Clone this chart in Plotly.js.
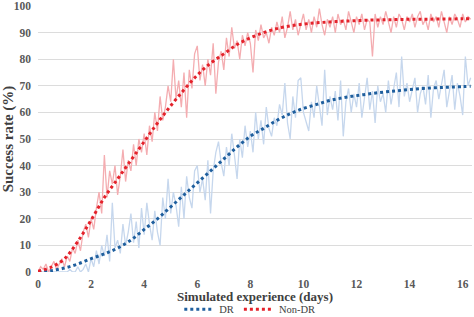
<!DOCTYPE html>
<html>
<head>
<meta charset="utf-8">
<script src="https://cdn.plot.ly/plotly-3.0.1.min.js"></script>
<style>
  html, body { margin: 0; padding: 0; background: #ffffff; }
  #chart { width: 474px; height: 317px; }
</style>
</head>
<body>
<div id="chart"></div>
<script>
// Daily sampling of the simulated runs (every 0.1 day, 0 to 16.3)
const sampleStart = 0;
const sampleStep = 0.1;

// Raw per-sample success rate (%) for the Non-DR group
const nonDrRaw = [
  0, 2, 1, 3, 0, 2, 4, 1, 3, 5,
  2, 6, 4, 9, 7, 12, 8, 15, 18, 13,
  20, 16, 24, 30, 22, 44, 28, 38, 33, 40,
  29, 36, 46, 34, 42, 38, 48, 40, 50, 45,
  52, 44, 55, 49, 60, 53, 66, 57, 62, 70,
  64, 80, 65, 72, 62, 75, 58, 76, 69, 82,
  85, 72, 78, 70, 80, 74, 86, 67, 79, 83,
  76, 88, 81, 92, 84, 87, 80, 89, 85, 90,
  86, 75, 91, 87, 93, 88, 90, 86, 92, 89,
  94, 90, 96, 88, 92, 98, 91, 95, 89, 93,
  97, 91, 95, 90, 96, 92, 99, 93, 89, 95,
  92, 96, 90, 97, 93, 95, 91, 98, 94, 90,
  96, 93, 97, 91, 95, 94, 81, 97, 92, 96,
  93, 98, 94, 90, 96, 92, 97, 95, 91, 96,
  94, 97, 92, 96, 98, 93, 95, 91, 97, 94,
  96, 92, 98, 94, 90, 96, 93, 97, 95, 92,
  97, 94, 96, 95
];

// Raw per-sample success rate (%) for the DR group
const drRaw = [
  0, 0, 0, 0, 0, 0, 0, 0, 0, 0,
  0, 0, 1, 0, 0, 2, 0, 1, 3, 0,
  5, 2, 8, 3, 10, 6, 14, 4, 26, 9,
  12, 7, 18, 10, 15, 22, 11, 19, 9, 24,
  14, 26, 18, 12, 23, 15, 10, 28, 20, 35,
  22, 30, 25, 17, 32, 20, 36, 28, 24, 38,
  40, 30, 35, 27, 42, 22, 38, 45, 49, 41,
  36, 47, 40, 52, 44, 35, 50, 43, 55, 47,
  53, 45, 60, 50, 57, 48, 62, 54, 51, 58,
  55, 63, 59, 71, 56, 50, 66, 58, 72, 73,
  60, 56, 53, 64, 58, 70, 62, 55, 76, 59,
  66, 61, 68, 57, 72, 51, 64, 69, 60, 67,
  62, 71, 58, 66, 73, 61, 68, 56, 70, 64,
  67, 60, 72, 63, 69, 75, 62, 81, 66, 71,
  64, 68, 73, 60, 67, 70, 63, 74, 58, 69,
  72, 65, 70, 76, 62, 68, 74, 61, 71, 66,
  59, 81, 70, 73
];

// Fitted trend curves
const trendDays = [
  0, 0.5, 1, 1.5, 2, 2.5, 3, 3.5, 4, 4.5, 5, 5.5, 6, 6.5, 7, 7.5, 8,
  8.5, 9, 9.5, 10, 10.5, 11, 11.5, 12, 12.5, 13, 13.5, 14, 14.5, 15, 15.5, 16, 16.3
];
const nonDrTrend = [
  0.3, 1.8, 5, 11.5, 19.5, 28, 35, 42, 49, 56, 62.5, 68.5, 74, 78.5, 82, 85.5, 88,
  90, 91.5, 92.5, 93.2, 93.7, 94, 94.3, 94.5, 94.7, 94.8, 94.9, 95, 95, 95.1, 95.1, 95.2, 95.2
];
const drTrend = [
  0, 0.5, 1.5, 3, 5, 6.8, 9, 12, 16, 20, 24.5, 29, 33.5, 38, 42.5, 47, 51,
  54, 57, 59.5, 61.5, 63, 64.5, 65.5, 66.3, 67, 67.6, 68.1, 68.6, 69, 69.3, 69.5, 69.7, 69.8
];

const yTicks = [0, 10, 20, 30, 40, 50, 60, 70, 80, 90, 100];
const xTicks = [0, 2, 4, 6, 8, 10, 12, 14, 16];

const sampleDays = nonDrRaw.map((_, i) => +(sampleStart + i * sampleStep).toFixed(2));

const RED = '#e4222b';
const BLUE = '#1f5f9e';
const RED_LIGHT = '#f4adb1';
const BLUE_LIGHT = '#c6d7ed';
const SERIF = 'Liberation Serif';
const bold = (s) => '<b>' + s + '</b>';

const traces = [
  {
    x: sampleDays, y: drRaw, type: 'scatter', mode: 'lines',
    line: { color: BLUE_LIGHT, width: 1.3 }, showlegend: false, hoverinfo: 'skip'
  },
  {
    x: sampleDays, y: nonDrRaw, type: 'scatter', mode: 'lines',
    line: { color: RED_LIGHT, width: 1.3 }, showlegend: false, hoverinfo: 'skip'
  },
  {
    x: trendDays, y: drTrend, type: 'scatter', mode: 'lines', name: 'DR',
    line: { color: BLUE, width: 3, dash: '3px,3px', shape: 'spline' }
  },
  {
    x: trendDays, y: nonDrTrend, type: 'scatter', mode: 'lines', name: 'Non-DR',
    line: { color: RED, width: 3, dash: '3px,3px', shape: 'spline' }
  }
];

const layout = {
  width: 474,
  height: 317,
  margin: { l: 38, r: 2, t: 6, b: 45, autoexpand: false },
  paper_bgcolor: '#ffffff',
  plot_bgcolor: '#ffffff',
  font: { family: SERIF },
  xaxis: {
    range: [0, 16.35],
    tickvals: xTicks,
    ticktext: xTicks.map(v => bold(v)),
    showgrid: false,
    zeroline: false,
    showline: false,
    ticks: '',
    ticklabelstandoff: 3,
    tickfont: { family: SERIF, size: 11.5, color: '#595959' },
    title: {
      text: bold('Simulated experience (days)'),
      font: { family: SERIF, size: 13, color: '#404040' },
      standoff: 2
    }
  },
  yaxis: {
    range: [0, 100],
    tickvals: yTicks,
    ticktext: yTicks.map(v => bold(v)),
    showgrid: true,
    gridcolor: '#dcdcdc',
    gridwidth: 1,
    zeroline: false,
    showline: false,
    ticks: '',
    ticklabelstandoff: 6,
    ticklabeloverflow: 'allow',
    tickfont: { family: SERIF, size: 11.5, color: '#595959' },
    title: {
      text: bold('Success rate (%)'),
      font: { family: SERIF, size: 15, color: '#404040' },
      standoff: 2
    }
  },
  legend: {
    orientation: 'h',
    x: 0.488, xanchor: 'center',
    y: -0.14, yanchor: 'middle',
    font: { family: SERIF, size: 10.5, color: '#404040' },
    bgcolor: 'rgba(0,0,0,0)',
    itemwidth: 30
  },
  showlegend: true
};

Plotly.newPlot('chart', traces, layout, { displayModeBar: false, staticPlot: true });
</script>
</body>
</html>
